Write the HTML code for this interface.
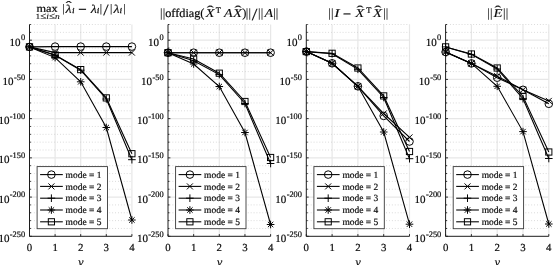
<!DOCTYPE html>
<html><head><meta charset="utf-8"><title>Convergence history</title>
<style>
html,body{margin:0;padding:0;background:#fff}
svg{display:block}
svg text{font-family:"Liberation Serif","DejaVu Serif",serif;fill:#0a0a0a;stroke:#0a0a0a;stroke-width:0.2px;text-rendering:geometricPrecision}
</style></head><body>
<svg width="553" height="265" viewBox="0 0 553 265">
<rect width="553" height="265" fill="#fff"/>
<g><line x1="55.1" y1="24.5" x2="55.1" y2="236.3" stroke="#e7e7e7" stroke-width="1.2"/>
<line x1="80.7" y1="24.5" x2="80.7" y2="236.3" stroke="#e7e7e7" stroke-width="1.2"/>
<line x1="106.3" y1="24.5" x2="106.3" y2="236.3" stroke="#e7e7e7" stroke-width="1.2"/>
<line x1="131.9" y1="24.5" x2="131.9" y2="236.3" stroke="#e7e7e7" stroke-width="1.2"/>
<line x1="31" y1="24.51" x2="131.9" y2="24.51" stroke="#c9c9c9" stroke-width="0.72" stroke-dasharray="0.9 2"/>
<line x1="31" y1="32.36" x2="131.9" y2="32.36" stroke="#c9c9c9" stroke-width="0.72" stroke-dasharray="0.9 2"/>
<line x1="29.5" y1="40.2" x2="131.9" y2="40.2" stroke="#e7e7e7" stroke-width="1.2"/>
<line x1="31" y1="48.04" x2="131.9" y2="48.04" stroke="#c9c9c9" stroke-width="0.72" stroke-dasharray="0.9 2"/>
<line x1="31" y1="55.89" x2="131.9" y2="55.89" stroke="#c9c9c9" stroke-width="0.72" stroke-dasharray="0.9 2"/>
<line x1="31" y1="63.73" x2="131.9" y2="63.73" stroke="#c9c9c9" stroke-width="0.72" stroke-dasharray="0.9 2"/>
<line x1="31" y1="71.58" x2="131.9" y2="71.58" stroke="#c9c9c9" stroke-width="0.72" stroke-dasharray="0.9 2"/>
<line x1="29.5" y1="79.42" x2="131.9" y2="79.42" stroke="#e7e7e7" stroke-width="1.2"/>
<line x1="31" y1="87.26" x2="131.9" y2="87.26" stroke="#c9c9c9" stroke-width="0.72" stroke-dasharray="0.9 2"/>
<line x1="31" y1="95.11" x2="131.9" y2="95.11" stroke="#c9c9c9" stroke-width="0.72" stroke-dasharray="0.9 2"/>
<line x1="31" y1="102.95" x2="131.9" y2="102.95" stroke="#c9c9c9" stroke-width="0.72" stroke-dasharray="0.9 2"/>
<line x1="31" y1="110.8" x2="131.9" y2="110.8" stroke="#c9c9c9" stroke-width="0.72" stroke-dasharray="0.9 2"/>
<line x1="29.5" y1="118.64" x2="131.9" y2="118.64" stroke="#e7e7e7" stroke-width="1.2"/>
<line x1="31" y1="126.48" x2="131.9" y2="126.48" stroke="#c9c9c9" stroke-width="0.72" stroke-dasharray="0.9 2"/>
<line x1="31" y1="134.33" x2="131.9" y2="134.33" stroke="#c9c9c9" stroke-width="0.72" stroke-dasharray="0.9 2"/>
<line x1="31" y1="142.17" x2="131.9" y2="142.17" stroke="#c9c9c9" stroke-width="0.72" stroke-dasharray="0.9 2"/>
<line x1="31" y1="150.02" x2="131.9" y2="150.02" stroke="#c9c9c9" stroke-width="0.72" stroke-dasharray="0.9 2"/>
<line x1="29.5" y1="157.86" x2="131.9" y2="157.86" stroke="#e7e7e7" stroke-width="1.2"/>
<line x1="31" y1="165.7" x2="131.9" y2="165.7" stroke="#c9c9c9" stroke-width="0.72" stroke-dasharray="0.9 2"/>
<line x1="31" y1="173.55" x2="131.9" y2="173.55" stroke="#c9c9c9" stroke-width="0.72" stroke-dasharray="0.9 2"/>
<line x1="31" y1="181.39" x2="131.9" y2="181.39" stroke="#c9c9c9" stroke-width="0.72" stroke-dasharray="0.9 2"/>
<line x1="31" y1="189.24" x2="131.9" y2="189.24" stroke="#c9c9c9" stroke-width="0.72" stroke-dasharray="0.9 2"/>
<line x1="29.5" y1="197.08" x2="131.9" y2="197.08" stroke="#e7e7e7" stroke-width="1.2"/>
<line x1="31" y1="204.92" x2="131.9" y2="204.92" stroke="#c9c9c9" stroke-width="0.72" stroke-dasharray="0.9 2"/>
<line x1="31" y1="212.77" x2="131.9" y2="212.77" stroke="#c9c9c9" stroke-width="0.72" stroke-dasharray="0.9 2"/>
<line x1="31" y1="220.61" x2="131.9" y2="220.61" stroke="#c9c9c9" stroke-width="0.72" stroke-dasharray="0.9 2"/>
<line x1="31" y1="228.46" x2="131.9" y2="228.46" stroke="#c9c9c9" stroke-width="0.72" stroke-dasharray="0.9 2"/>
<path d="M29.5 24.51h1.4M29.5 32.36h1.4M29.5 40.2h2.4M29.5 48.04h1.4M29.5 55.89h1.4M29.5 63.73h1.4M29.5 71.58h1.4M29.5 79.42h2.4M29.5 87.26h1.4M29.5 95.11h1.4M29.5 102.95h1.4M29.5 110.8h1.4M29.5 118.64h2.4M29.5 126.48h1.4M29.5 134.33h1.4M29.5 142.17h1.4M29.5 150.02h1.4M29.5 157.86h2.4M29.5 165.7h1.4M29.5 173.55h1.4M29.5 181.39h1.4M29.5 189.24h1.4M29.5 197.08h2.4M29.5 204.92h1.4M29.5 212.77h1.4M29.5 220.61h1.4M29.5 228.46h1.4M29.5 236.3h2.4M29.5 236.3v-2.2M55.1 236.3v-2.2M80.7 236.3v-2.2M106.3 236.3v-2.2M131.9 236.3v-2.2" stroke="#1c1c1c" stroke-width="0.9" fill="none"/>
<path d="M29.5 24.5V236.3H131.9" stroke="#1c1c1c" stroke-width="1" fill="none"/>
<text x="25.2" y="40.4" font-size="8.4" text-anchor="end">0</text>
<text x="20.6" y="45.8" font-size="11" text-anchor="end">10</text>
<text x="25.2" y="79.62" font-size="8.4" text-anchor="end">-50</text>
<text x="13.6" y="85.02" font-size="11" text-anchor="end">10</text>
<text x="25.2" y="118.84" font-size="8.4" text-anchor="end">-100</text>
<text x="9.4" y="124.24" font-size="11" text-anchor="end">10</text>
<text x="25.2" y="158.06" font-size="8.4" text-anchor="end">-150</text>
<text x="9.4" y="163.46" font-size="11" text-anchor="end">10</text>
<text x="25.2" y="197.28" font-size="8.4" text-anchor="end">-200</text>
<text x="9.4" y="202.68" font-size="11" text-anchor="end">10</text>
<text x="25.2" y="236.5" font-size="8.4" text-anchor="end">-250</text>
<text x="9.4" y="241.9" font-size="11" text-anchor="end">10</text>
<text x="29.5" y="250.8" font-size="10.8" text-anchor="middle">0</text>
<text x="55.1" y="250.8" font-size="10.8" text-anchor="middle">1</text>
<text x="80.7" y="250.8" font-size="10.8" text-anchor="middle">2</text>
<text x="106.3" y="250.8" font-size="10.8" text-anchor="middle">3</text>
<text x="131.9" y="250.8" font-size="10.8" text-anchor="middle">4</text>
<text x="80.9" y="266.2" font-size="11.8" font-style="italic" text-anchor="middle">ν</text>
<polyline points="29.5,46.9 55.1,46.6 80.7,46.6 106.3,46.6 131.9,46.6" fill="none" stroke="#000" stroke-width="1.08"/>
<g stroke="#000" stroke-width="0.98" fill="none"><circle cx="29.5" cy="46.9" r="3.8" fill="none"/><circle cx="55.1" cy="46.6" r="3.8" fill="none"/><circle cx="80.7" cy="46.6" r="3.8" fill="none"/><circle cx="106.3" cy="46.6" r="3.8" fill="none"/><circle cx="131.9" cy="46.6" r="3.8" fill="none"/></g>
<polyline points="29.5,46.9 55.1,52.6 80.7,52.6 106.3,52.6 131.9,52.6" fill="none" stroke="#000" stroke-width="1.08"/>
<g stroke="#000" stroke-width="0.98" fill="none"><path d="M26.5 43.9L32.5 49.9M26.5 49.9L32.5 43.9"/><path d="M52.1 49.6L58.1 55.6M52.1 55.6L58.1 49.6"/><path d="M77.7 49.6L83.7 55.6M77.7 55.6L83.7 49.6"/><path d="M103.3 49.6L109.3 55.6M103.3 55.6L109.3 49.6"/><path d="M128.9 49.6L134.9 55.6M128.9 55.6L134.9 49.6"/></g>
<polyline points="29.5,46.9 55.1,55.3 80.7,70.2 106.3,99 131.9,159.7" fill="none" stroke="#000" stroke-width="1.08"/>
<g stroke="#000" stroke-width="0.98" fill="none"><path d="M25.7 46.9H33.3M29.5 43.1V50.7"/><path d="M51.3 55.3H58.9M55.1 51.5V59.1"/><path d="M76.9 70.2H84.5M80.7 66.4V74"/><path d="M102.5 99H110.1M106.3 95.2V102.8"/><path d="M128.1 159.7H135.7M131.9 155.9V163.5"/></g>
<polyline points="29.5,46.9 55.1,57.6 80.7,81.8 106.3,127.5 131.9,220" fill="none" stroke="#000" stroke-width="1.08"/>
<g stroke="#000" stroke-width="0.98" fill="none"><path d="M25.7 46.9H33.3M29.5 43.1V50.7M26.8 44.2L32.2 49.6M26.8 49.6L32.2 44.2"/><path d="M51.3 57.6H58.9M55.1 53.8V61.4M52.4 54.9L57.8 60.3M52.4 60.3L57.8 54.9"/><path d="M76.9 81.8H84.5M80.7 78V85.6M78 79.1L83.4 84.5M78 84.5L83.4 79.1"/><path d="M102.5 127.5H110.1M106.3 123.7V131.3M103.6 124.8L109 130.2M103.6 130.2L109 124.8"/><path d="M128.1 220H135.7M131.9 216.2V223.8M129.2 217.3L134.6 222.7M129.2 222.7L134.6 217.3"/></g>
<polyline points="29.5,46.9 55.1,55 80.7,69.6 106.3,97.9 131.9,153.7" fill="none" stroke="#000" stroke-width="1.08"/>
<g stroke="#000" stroke-width="0.98" fill="none"><rect x="26.4" y="43.8" width="6.2" height="6.2" fill="none"/><rect x="52" y="51.9" width="6.2" height="6.2" fill="none"/><rect x="77.6" y="66.5" width="6.2" height="6.2" fill="none"/><rect x="103.2" y="94.8" width="6.2" height="6.2" fill="none"/><rect x="128.8" y="150.6" width="6.2" height="6.2" fill="none"/></g>
<rect x="37.1" y="166.6" width="70.4" height="62.1" fill="#fff" stroke="#3a3a3a" stroke-width="0.9"/>
<line x1="40.1" y1="174.6" x2="62.8" y2="174.6" stroke="#000" stroke-width="1.08"/>
<g stroke="#000" stroke-width="0.98" fill="none"><circle cx="51.4" cy="174.6" r="3.8" fill="none"/></g>
<text x="65.6" y="177.8" font-size="9.5" textLength="35.8" lengthAdjust="spacingAndGlyphs">mode = 1</text>
<line x1="40.1" y1="186.4" x2="62.8" y2="186.4" stroke="#000" stroke-width="1.08"/>
<g stroke="#000" stroke-width="0.98" fill="none"><path d="M48.4 183.4L54.4 189.4M48.4 189.4L54.4 183.4"/></g>
<text x="65.6" y="189.6" font-size="9.5" textLength="35.8" lengthAdjust="spacingAndGlyphs">mode = 2</text>
<line x1="40.1" y1="198.2" x2="62.8" y2="198.2" stroke="#000" stroke-width="1.08"/>
<g stroke="#000" stroke-width="0.98" fill="none"><path d="M47.6 198.2H55.2M51.4 194.4V202"/></g>
<text x="65.6" y="201.4" font-size="9.5" textLength="35.8" lengthAdjust="spacingAndGlyphs">mode = 3</text>
<line x1="40.1" y1="210" x2="62.8" y2="210" stroke="#000" stroke-width="1.08"/>
<g stroke="#000" stroke-width="0.98" fill="none"><path d="M47.6 210H55.2M51.4 206.2V213.8M48.7 207.3L54.1 212.7M48.7 212.7L54.1 207.3"/></g>
<text x="65.6" y="213.2" font-size="9.5" textLength="35.8" lengthAdjust="spacingAndGlyphs">mode = 4</text>
<line x1="40.1" y1="221.8" x2="62.8" y2="221.8" stroke="#000" stroke-width="1.08"/>
<g stroke="#000" stroke-width="0.98" fill="none"><rect x="48.3" y="218.7" width="6.2" height="6.2" fill="none"/></g>
<text x="65.6" y="225" font-size="9.5" textLength="35.8" lengthAdjust="spacingAndGlyphs">mode = 5</text></g>
<g><line x1="193.65" y1="24.5" x2="193.65" y2="236.3" stroke="#e7e7e7" stroke-width="1.2"/>
<line x1="219.3" y1="24.5" x2="219.3" y2="236.3" stroke="#e7e7e7" stroke-width="1.2"/>
<line x1="244.95" y1="24.5" x2="244.95" y2="236.3" stroke="#e7e7e7" stroke-width="1.2"/>
<line x1="270.6" y1="24.5" x2="270.6" y2="236.3" stroke="#e7e7e7" stroke-width="1.2"/>
<line x1="169.5" y1="24.51" x2="270.6" y2="24.51" stroke="#c9c9c9" stroke-width="0.72" stroke-dasharray="0.9 2"/>
<line x1="169.5" y1="32.36" x2="270.6" y2="32.36" stroke="#c9c9c9" stroke-width="0.72" stroke-dasharray="0.9 2"/>
<line x1="168" y1="40.2" x2="270.6" y2="40.2" stroke="#e7e7e7" stroke-width="1.2"/>
<line x1="169.5" y1="48.04" x2="270.6" y2="48.04" stroke="#c9c9c9" stroke-width="0.72" stroke-dasharray="0.9 2"/>
<line x1="169.5" y1="55.89" x2="270.6" y2="55.89" stroke="#c9c9c9" stroke-width="0.72" stroke-dasharray="0.9 2"/>
<line x1="169.5" y1="63.73" x2="270.6" y2="63.73" stroke="#c9c9c9" stroke-width="0.72" stroke-dasharray="0.9 2"/>
<line x1="169.5" y1="71.58" x2="270.6" y2="71.58" stroke="#c9c9c9" stroke-width="0.72" stroke-dasharray="0.9 2"/>
<line x1="168" y1="79.42" x2="270.6" y2="79.42" stroke="#e7e7e7" stroke-width="1.2"/>
<line x1="169.5" y1="87.26" x2="270.6" y2="87.26" stroke="#c9c9c9" stroke-width="0.72" stroke-dasharray="0.9 2"/>
<line x1="169.5" y1="95.11" x2="270.6" y2="95.11" stroke="#c9c9c9" stroke-width="0.72" stroke-dasharray="0.9 2"/>
<line x1="169.5" y1="102.95" x2="270.6" y2="102.95" stroke="#c9c9c9" stroke-width="0.72" stroke-dasharray="0.9 2"/>
<line x1="169.5" y1="110.8" x2="270.6" y2="110.8" stroke="#c9c9c9" stroke-width="0.72" stroke-dasharray="0.9 2"/>
<line x1="168" y1="118.64" x2="270.6" y2="118.64" stroke="#e7e7e7" stroke-width="1.2"/>
<line x1="169.5" y1="126.48" x2="270.6" y2="126.48" stroke="#c9c9c9" stroke-width="0.72" stroke-dasharray="0.9 2"/>
<line x1="169.5" y1="134.33" x2="270.6" y2="134.33" stroke="#c9c9c9" stroke-width="0.72" stroke-dasharray="0.9 2"/>
<line x1="169.5" y1="142.17" x2="270.6" y2="142.17" stroke="#c9c9c9" stroke-width="0.72" stroke-dasharray="0.9 2"/>
<line x1="169.5" y1="150.02" x2="270.6" y2="150.02" stroke="#c9c9c9" stroke-width="0.72" stroke-dasharray="0.9 2"/>
<line x1="168" y1="157.86" x2="270.6" y2="157.86" stroke="#e7e7e7" stroke-width="1.2"/>
<line x1="169.5" y1="165.7" x2="270.6" y2="165.7" stroke="#c9c9c9" stroke-width="0.72" stroke-dasharray="0.9 2"/>
<line x1="169.5" y1="173.55" x2="270.6" y2="173.55" stroke="#c9c9c9" stroke-width="0.72" stroke-dasharray="0.9 2"/>
<line x1="169.5" y1="181.39" x2="270.6" y2="181.39" stroke="#c9c9c9" stroke-width="0.72" stroke-dasharray="0.9 2"/>
<line x1="169.5" y1="189.24" x2="270.6" y2="189.24" stroke="#c9c9c9" stroke-width="0.72" stroke-dasharray="0.9 2"/>
<line x1="168" y1="197.08" x2="270.6" y2="197.08" stroke="#e7e7e7" stroke-width="1.2"/>
<line x1="169.5" y1="204.92" x2="270.6" y2="204.92" stroke="#c9c9c9" stroke-width="0.72" stroke-dasharray="0.9 2"/>
<line x1="169.5" y1="212.77" x2="270.6" y2="212.77" stroke="#c9c9c9" stroke-width="0.72" stroke-dasharray="0.9 2"/>
<line x1="169.5" y1="220.61" x2="270.6" y2="220.61" stroke="#c9c9c9" stroke-width="0.72" stroke-dasharray="0.9 2"/>
<line x1="169.5" y1="228.46" x2="270.6" y2="228.46" stroke="#c9c9c9" stroke-width="0.72" stroke-dasharray="0.9 2"/>
<path d="M168 24.51h1.4M168 32.36h1.4M168 40.2h2.4M168 48.04h1.4M168 55.89h1.4M168 63.73h1.4M168 71.58h1.4M168 79.42h2.4M168 87.26h1.4M168 95.11h1.4M168 102.95h1.4M168 110.8h1.4M168 118.64h2.4M168 126.48h1.4M168 134.33h1.4M168 142.17h1.4M168 150.02h1.4M168 157.86h2.4M168 165.7h1.4M168 173.55h1.4M168 181.39h1.4M168 189.24h1.4M168 197.08h2.4M168 204.92h1.4M168 212.77h1.4M168 220.61h1.4M168 228.46h1.4M168 236.3h2.4M168 236.3v-2.2M193.65 236.3v-2.2M219.3 236.3v-2.2M244.95 236.3v-2.2M270.6 236.3v-2.2" stroke="#1c1c1c" stroke-width="0.9" fill="none"/>
<path d="M168 24.5V236.3H270.6" stroke="#1c1c1c" stroke-width="1" fill="none"/>
<text x="163.7" y="40.4" font-size="8.4" text-anchor="end">0</text>
<text x="159.1" y="45.8" font-size="11" text-anchor="end">10</text>
<text x="163.7" y="79.62" font-size="8.4" text-anchor="end">-50</text>
<text x="152.1" y="85.02" font-size="11" text-anchor="end">10</text>
<text x="163.7" y="118.84" font-size="8.4" text-anchor="end">-100</text>
<text x="147.9" y="124.24" font-size="11" text-anchor="end">10</text>
<text x="163.7" y="158.06" font-size="8.4" text-anchor="end">-150</text>
<text x="147.9" y="163.46" font-size="11" text-anchor="end">10</text>
<text x="163.7" y="197.28" font-size="8.4" text-anchor="end">-200</text>
<text x="147.9" y="202.68" font-size="11" text-anchor="end">10</text>
<text x="163.7" y="236.5" font-size="8.4" text-anchor="end">-250</text>
<text x="147.9" y="241.9" font-size="11" text-anchor="end">10</text>
<text x="168" y="250.8" font-size="10.8" text-anchor="middle">0</text>
<text x="193.65" y="250.8" font-size="10.8" text-anchor="middle">1</text>
<text x="219.3" y="250.8" font-size="10.8" text-anchor="middle">2</text>
<text x="244.95" y="250.8" font-size="10.8" text-anchor="middle">3</text>
<text x="270.6" y="250.8" font-size="10.8" text-anchor="middle">4</text>
<text x="219.5" y="266.2" font-size="11.8" font-style="italic" text-anchor="middle">ν</text>
<polyline points="168,52.7 193.65,52.7 219.3,52.7 244.95,52.7 270.6,52.7" fill="none" stroke="#000" stroke-width="1.08"/>
<g stroke="#000" stroke-width="0.98" fill="none"><circle cx="168" cy="52.7" r="3.8" fill="none"/><circle cx="193.65" cy="52.7" r="3.8" fill="none"/><circle cx="219.3" cy="52.7" r="3.8" fill="none"/><circle cx="244.95" cy="52.7" r="3.8" fill="none"/><circle cx="270.6" cy="52.7" r="3.8" fill="none"/></g>
<polyline points="168,52.7 193.65,52.7 219.3,52.7 244.95,52.7 270.6,52.7" fill="none" stroke="#000" stroke-width="1.08"/>
<g stroke="#000" stroke-width="0.98" fill="none"><path d="M165 49.7L171 55.7M165 55.7L171 49.7"/><path d="M190.65 49.7L196.65 55.7M190.65 55.7L196.65 49.7"/><path d="M216.3 49.7L222.3 55.7M216.3 55.7L222.3 49.7"/><path d="M241.95 49.7L247.95 55.7M241.95 55.7L247.95 49.7"/><path d="M267.6 49.7L273.6 55.7M267.6 55.7L273.6 49.7"/></g>
<polyline points="168,52.7 193.65,60.8 219.3,74.6 244.95,103.5 270.6,163.5" fill="none" stroke="#000" stroke-width="1.08"/>
<g stroke="#000" stroke-width="0.98" fill="none"><path d="M164.2 52.7H171.8M168 48.9V56.5"/><path d="M189.85 60.8H197.45M193.65 57V64.6"/><path d="M215.5 74.6H223.1M219.3 70.8V78.4"/><path d="M241.15 103.5H248.75M244.95 99.7V107.3"/><path d="M266.8 163.5H274.4M270.6 159.7V167.3"/></g>
<polyline points="168,52.7 193.65,64 219.3,86.5 244.95,132.5 270.6,224.5" fill="none" stroke="#000" stroke-width="1.08"/>
<g stroke="#000" stroke-width="0.98" fill="none"><path d="M164.2 52.7H171.8M168 48.9V56.5M165.3 50L170.7 55.4M165.3 55.4L170.7 50"/><path d="M189.85 64H197.45M193.65 60.2V67.8M190.95 61.3L196.35 66.7M190.95 66.7L196.35 61.3"/><path d="M215.5 86.5H223.1M219.3 82.7V90.3M216.6 83.8L222 89.2M216.6 89.2L222 83.8"/><path d="M241.15 132.5H248.75M244.95 128.7V136.3M242.25 129.8L247.65 135.2M242.25 135.2L247.65 129.8"/><path d="M266.8 224.5H274.4M270.6 220.7V228.3M267.9 221.8L273.3 227.2M267.9 227.2L273.3 221.8"/></g>
<polyline points="168,52.7 193.65,59 219.3,73.2 244.95,101.5 270.6,157.5" fill="none" stroke="#000" stroke-width="1.08"/>
<g stroke="#000" stroke-width="0.98" fill="none"><rect x="164.9" y="49.6" width="6.2" height="6.2" fill="none"/><rect x="190.55" y="55.9" width="6.2" height="6.2" fill="none"/><rect x="216.2" y="70.1" width="6.2" height="6.2" fill="none"/><rect x="241.85" y="98.4" width="6.2" height="6.2" fill="none"/><rect x="267.5" y="154.4" width="6.2" height="6.2" fill="none"/></g>
<rect x="175.6" y="166.6" width="70.4" height="62.1" fill="#fff" stroke="#3a3a3a" stroke-width="0.9"/>
<line x1="178.6" y1="174.6" x2="201.3" y2="174.6" stroke="#000" stroke-width="1.08"/>
<g stroke="#000" stroke-width="0.98" fill="none"><circle cx="189.9" cy="174.6" r="3.8" fill="none"/></g>
<text x="204.1" y="177.8" font-size="9.5" textLength="35.8" lengthAdjust="spacingAndGlyphs">mode = 1</text>
<line x1="178.6" y1="186.4" x2="201.3" y2="186.4" stroke="#000" stroke-width="1.08"/>
<g stroke="#000" stroke-width="0.98" fill="none"><path d="M186.9 183.4L192.9 189.4M186.9 189.4L192.9 183.4"/></g>
<text x="204.1" y="189.6" font-size="9.5" textLength="35.8" lengthAdjust="spacingAndGlyphs">mode = 2</text>
<line x1="178.6" y1="198.2" x2="201.3" y2="198.2" stroke="#000" stroke-width="1.08"/>
<g stroke="#000" stroke-width="0.98" fill="none"><path d="M186.1 198.2H193.7M189.9 194.4V202"/></g>
<text x="204.1" y="201.4" font-size="9.5" textLength="35.8" lengthAdjust="spacingAndGlyphs">mode = 3</text>
<line x1="178.6" y1="210" x2="201.3" y2="210" stroke="#000" stroke-width="1.08"/>
<g stroke="#000" stroke-width="0.98" fill="none"><path d="M186.1 210H193.7M189.9 206.2V213.8M187.2 207.3L192.6 212.7M187.2 212.7L192.6 207.3"/></g>
<text x="204.1" y="213.2" font-size="9.5" textLength="35.8" lengthAdjust="spacingAndGlyphs">mode = 4</text>
<line x1="178.6" y1="221.8" x2="201.3" y2="221.8" stroke="#000" stroke-width="1.08"/>
<g stroke="#000" stroke-width="0.98" fill="none"><rect x="186.8" y="218.7" width="6.2" height="6.2" fill="none"/></g>
<text x="204.1" y="225" font-size="9.5" textLength="35.8" lengthAdjust="spacingAndGlyphs">mode = 5</text></g>
<g><line x1="332.1" y1="24.5" x2="332.1" y2="236.3" stroke="#e7e7e7" stroke-width="1.2"/>
<line x1="357.9" y1="24.5" x2="357.9" y2="236.3" stroke="#e7e7e7" stroke-width="1.2"/>
<line x1="383.7" y1="24.5" x2="383.7" y2="236.3" stroke="#e7e7e7" stroke-width="1.2"/>
<line x1="409.5" y1="24.5" x2="409.5" y2="236.3" stroke="#e7e7e7" stroke-width="1.2"/>
<line x1="307.8" y1="24.51" x2="409.5" y2="24.51" stroke="#c9c9c9" stroke-width="0.72" stroke-dasharray="0.9 2"/>
<line x1="307.8" y1="32.36" x2="409.5" y2="32.36" stroke="#c9c9c9" stroke-width="0.72" stroke-dasharray="0.9 2"/>
<line x1="306.3" y1="40.2" x2="409.5" y2="40.2" stroke="#e7e7e7" stroke-width="1.2"/>
<line x1="307.8" y1="48.04" x2="409.5" y2="48.04" stroke="#c9c9c9" stroke-width="0.72" stroke-dasharray="0.9 2"/>
<line x1="307.8" y1="55.89" x2="409.5" y2="55.89" stroke="#c9c9c9" stroke-width="0.72" stroke-dasharray="0.9 2"/>
<line x1="307.8" y1="63.73" x2="409.5" y2="63.73" stroke="#c9c9c9" stroke-width="0.72" stroke-dasharray="0.9 2"/>
<line x1="307.8" y1="71.58" x2="409.5" y2="71.58" stroke="#c9c9c9" stroke-width="0.72" stroke-dasharray="0.9 2"/>
<line x1="306.3" y1="79.42" x2="409.5" y2="79.42" stroke="#e7e7e7" stroke-width="1.2"/>
<line x1="307.8" y1="87.26" x2="409.5" y2="87.26" stroke="#c9c9c9" stroke-width="0.72" stroke-dasharray="0.9 2"/>
<line x1="307.8" y1="95.11" x2="409.5" y2="95.11" stroke="#c9c9c9" stroke-width="0.72" stroke-dasharray="0.9 2"/>
<line x1="307.8" y1="102.95" x2="409.5" y2="102.95" stroke="#c9c9c9" stroke-width="0.72" stroke-dasharray="0.9 2"/>
<line x1="307.8" y1="110.8" x2="409.5" y2="110.8" stroke="#c9c9c9" stroke-width="0.72" stroke-dasharray="0.9 2"/>
<line x1="306.3" y1="118.64" x2="409.5" y2="118.64" stroke="#e7e7e7" stroke-width="1.2"/>
<line x1="307.8" y1="126.48" x2="409.5" y2="126.48" stroke="#c9c9c9" stroke-width="0.72" stroke-dasharray="0.9 2"/>
<line x1="307.8" y1="134.33" x2="409.5" y2="134.33" stroke="#c9c9c9" stroke-width="0.72" stroke-dasharray="0.9 2"/>
<line x1="307.8" y1="142.17" x2="409.5" y2="142.17" stroke="#c9c9c9" stroke-width="0.72" stroke-dasharray="0.9 2"/>
<line x1="307.8" y1="150.02" x2="409.5" y2="150.02" stroke="#c9c9c9" stroke-width="0.72" stroke-dasharray="0.9 2"/>
<line x1="306.3" y1="157.86" x2="409.5" y2="157.86" stroke="#e7e7e7" stroke-width="1.2"/>
<line x1="307.8" y1="165.7" x2="409.5" y2="165.7" stroke="#c9c9c9" stroke-width="0.72" stroke-dasharray="0.9 2"/>
<line x1="307.8" y1="173.55" x2="409.5" y2="173.55" stroke="#c9c9c9" stroke-width="0.72" stroke-dasharray="0.9 2"/>
<line x1="307.8" y1="181.39" x2="409.5" y2="181.39" stroke="#c9c9c9" stroke-width="0.72" stroke-dasharray="0.9 2"/>
<line x1="307.8" y1="189.24" x2="409.5" y2="189.24" stroke="#c9c9c9" stroke-width="0.72" stroke-dasharray="0.9 2"/>
<line x1="306.3" y1="197.08" x2="409.5" y2="197.08" stroke="#e7e7e7" stroke-width="1.2"/>
<line x1="307.8" y1="204.92" x2="409.5" y2="204.92" stroke="#c9c9c9" stroke-width="0.72" stroke-dasharray="0.9 2"/>
<line x1="307.8" y1="212.77" x2="409.5" y2="212.77" stroke="#c9c9c9" stroke-width="0.72" stroke-dasharray="0.9 2"/>
<line x1="307.8" y1="220.61" x2="409.5" y2="220.61" stroke="#c9c9c9" stroke-width="0.72" stroke-dasharray="0.9 2"/>
<line x1="307.8" y1="228.46" x2="409.5" y2="228.46" stroke="#c9c9c9" stroke-width="0.72" stroke-dasharray="0.9 2"/>
<path d="M306.3 24.51h1.4M306.3 32.36h1.4M306.3 40.2h2.4M306.3 48.04h1.4M306.3 55.89h1.4M306.3 63.73h1.4M306.3 71.58h1.4M306.3 79.42h2.4M306.3 87.26h1.4M306.3 95.11h1.4M306.3 102.95h1.4M306.3 110.8h1.4M306.3 118.64h2.4M306.3 126.48h1.4M306.3 134.33h1.4M306.3 142.17h1.4M306.3 150.02h1.4M306.3 157.86h2.4M306.3 165.7h1.4M306.3 173.55h1.4M306.3 181.39h1.4M306.3 189.24h1.4M306.3 197.08h2.4M306.3 204.92h1.4M306.3 212.77h1.4M306.3 220.61h1.4M306.3 228.46h1.4M306.3 236.3h2.4M306.3 236.3v-2.2M332.1 236.3v-2.2M357.9 236.3v-2.2M383.7 236.3v-2.2M409.5 236.3v-2.2" stroke="#1c1c1c" stroke-width="0.9" fill="none"/>
<path d="M306.3 24.5V236.3H409.5" stroke="#1c1c1c" stroke-width="1" fill="none"/>
<text x="302" y="40.4" font-size="8.4" text-anchor="end">0</text>
<text x="297.4" y="45.8" font-size="11" text-anchor="end">10</text>
<text x="302" y="79.62" font-size="8.4" text-anchor="end">-50</text>
<text x="290.4" y="85.02" font-size="11" text-anchor="end">10</text>
<text x="302" y="118.84" font-size="8.4" text-anchor="end">-100</text>
<text x="286.2" y="124.24" font-size="11" text-anchor="end">10</text>
<text x="302" y="158.06" font-size="8.4" text-anchor="end">-150</text>
<text x="286.2" y="163.46" font-size="11" text-anchor="end">10</text>
<text x="302" y="197.28" font-size="8.4" text-anchor="end">-200</text>
<text x="286.2" y="202.68" font-size="11" text-anchor="end">10</text>
<text x="302" y="236.5" font-size="8.4" text-anchor="end">-250</text>
<text x="286.2" y="241.9" font-size="11" text-anchor="end">10</text>
<text x="306.3" y="250.8" font-size="10.8" text-anchor="middle">0</text>
<text x="332.1" y="250.8" font-size="10.8" text-anchor="middle">1</text>
<text x="357.9" y="250.8" font-size="10.8" text-anchor="middle">2</text>
<text x="383.7" y="250.8" font-size="10.8" text-anchor="middle">3</text>
<text x="409.5" y="250.8" font-size="10.8" text-anchor="middle">4</text>
<text x="358.1" y="266.2" font-size="11.8" font-style="italic" text-anchor="middle">ν</text>
<polyline points="306.3,51.6 332.1,63.3 357.9,86.3 383.7,115.9 409.5,141.5" fill="none" stroke="#000" stroke-width="1.08"/>
<g stroke="#000" stroke-width="0.98" fill="none"><circle cx="306.3" cy="51.6" r="3.8" fill="none"/><circle cx="332.1" cy="63.3" r="3.8" fill="none"/><circle cx="357.9" cy="86.3" r="3.8" fill="none"/><circle cx="383.7" cy="115.9" r="3.8" fill="none"/><circle cx="409.5" cy="141.5" r="3.8" fill="none"/></g>
<polyline points="306.3,51.6 332.1,63.3 357.9,86.3 383.7,113.5 409.5,137.4" fill="none" stroke="#000" stroke-width="1.08"/>
<g stroke="#000" stroke-width="0.98" fill="none"><path d="M303.3 48.6L309.3 54.6M303.3 54.6L309.3 48.6"/><path d="M329.1 60.3L335.1 66.3M329.1 66.3L335.1 60.3"/><path d="M354.9 83.3L360.9 89.3M354.9 89.3L360.9 83.3"/><path d="M380.7 110.5L386.7 116.5M380.7 116.5L386.7 110.5"/><path d="M406.5 134.4L412.5 140.4M406.5 140.4L412.5 134.4"/></g>
<polyline points="306.3,51.6 332.1,53.8 357.9,69.3 383.7,97.5 409.5,158.7" fill="none" stroke="#000" stroke-width="1.08"/>
<g stroke="#000" stroke-width="0.98" fill="none"><path d="M302.5 51.6H310.1M306.3 47.8V55.4"/><path d="M328.3 53.8H335.9M332.1 50V57.6"/><path d="M354.1 69.3H361.7M357.9 65.5V73.1"/><path d="M379.9 97.5H387.5M383.7 93.7V101.3"/><path d="M405.7 158.7H413.3M409.5 154.9V162.5"/></g>
<polyline points="306.3,51.6 332.1,63.3 357.9,86.3 383.7,132 409.5,224.2" fill="none" stroke="#000" stroke-width="1.08"/>
<g stroke="#000" stroke-width="0.98" fill="none"><path d="M302.5 51.6H310.1M306.3 47.8V55.4M303.6 48.9L309 54.3M303.6 54.3L309 48.9"/><path d="M328.3 63.3H335.9M332.1 59.5V67.1M329.4 60.6L334.8 66M329.4 66L334.8 60.6"/><path d="M354.1 86.3H361.7M357.9 82.5V90.1M355.2 83.6L360.6 89M355.2 89L360.6 83.6"/><path d="M379.9 132H387.5M383.7 128.2V135.8M381 129.3L386.4 134.7M381 134.7L386.4 129.3"/><path d="M405.7 224.2H413.3M409.5 220.4V228M406.8 221.5L412.2 226.9M406.8 226.9L412.2 221.5"/></g>
<polyline points="306.3,51.6 332.1,53.3 357.9,68 383.7,95.9 409.5,151.5" fill="none" stroke="#000" stroke-width="1.08"/>
<g stroke="#000" stroke-width="0.98" fill="none"><rect x="303.2" y="48.5" width="6.2" height="6.2" fill="none"/><rect x="329" y="50.2" width="6.2" height="6.2" fill="none"/><rect x="354.8" y="64.9" width="6.2" height="6.2" fill="none"/><rect x="380.6" y="92.8" width="6.2" height="6.2" fill="none"/><rect x="406.4" y="148.4" width="6.2" height="6.2" fill="none"/></g>
<rect x="313.9" y="166.6" width="70.4" height="62.1" fill="#fff" stroke="#3a3a3a" stroke-width="0.9"/>
<line x1="316.9" y1="174.6" x2="339.6" y2="174.6" stroke="#000" stroke-width="1.08"/>
<g stroke="#000" stroke-width="0.98" fill="none"><circle cx="328.2" cy="174.6" r="3.8" fill="none"/></g>
<text x="342.4" y="177.8" font-size="9.5" textLength="35.8" lengthAdjust="spacingAndGlyphs">mode = 1</text>
<line x1="316.9" y1="186.4" x2="339.6" y2="186.4" stroke="#000" stroke-width="1.08"/>
<g stroke="#000" stroke-width="0.98" fill="none"><path d="M325.2 183.4L331.2 189.4M325.2 189.4L331.2 183.4"/></g>
<text x="342.4" y="189.6" font-size="9.5" textLength="35.8" lengthAdjust="spacingAndGlyphs">mode = 2</text>
<line x1="316.9" y1="198.2" x2="339.6" y2="198.2" stroke="#000" stroke-width="1.08"/>
<g stroke="#000" stroke-width="0.98" fill="none"><path d="M324.4 198.2H332M328.2 194.4V202"/></g>
<text x="342.4" y="201.4" font-size="9.5" textLength="35.8" lengthAdjust="spacingAndGlyphs">mode = 3</text>
<line x1="316.9" y1="210" x2="339.6" y2="210" stroke="#000" stroke-width="1.08"/>
<g stroke="#000" stroke-width="0.98" fill="none"><path d="M324.4 210H332M328.2 206.2V213.8M325.5 207.3L330.9 212.7M325.5 212.7L330.9 207.3"/></g>
<text x="342.4" y="213.2" font-size="9.5" textLength="35.8" lengthAdjust="spacingAndGlyphs">mode = 4</text>
<line x1="316.9" y1="221.8" x2="339.6" y2="221.8" stroke="#000" stroke-width="1.08"/>
<g stroke="#000" stroke-width="0.98" fill="none"><rect x="325.1" y="218.7" width="6.2" height="6.2" fill="none"/></g>
<text x="342.4" y="225" font-size="9.5" textLength="35.8" lengthAdjust="spacingAndGlyphs">mode = 5</text></g>
<g><line x1="471.4" y1="24.5" x2="471.4" y2="236.3" stroke="#e7e7e7" stroke-width="1.2"/>
<line x1="497.2" y1="24.5" x2="497.2" y2="236.3" stroke="#e7e7e7" stroke-width="1.2"/>
<line x1="523" y1="24.5" x2="523" y2="236.3" stroke="#e7e7e7" stroke-width="1.2"/>
<line x1="548.8" y1="24.5" x2="548.8" y2="236.3" stroke="#e7e7e7" stroke-width="1.2"/>
<line x1="447.1" y1="24.51" x2="548.8" y2="24.51" stroke="#c9c9c9" stroke-width="0.72" stroke-dasharray="0.9 2"/>
<line x1="447.1" y1="32.36" x2="548.8" y2="32.36" stroke="#c9c9c9" stroke-width="0.72" stroke-dasharray="0.9 2"/>
<line x1="445.6" y1="40.2" x2="548.8" y2="40.2" stroke="#e7e7e7" stroke-width="1.2"/>
<line x1="447.1" y1="48.04" x2="548.8" y2="48.04" stroke="#c9c9c9" stroke-width="0.72" stroke-dasharray="0.9 2"/>
<line x1="447.1" y1="55.89" x2="548.8" y2="55.89" stroke="#c9c9c9" stroke-width="0.72" stroke-dasharray="0.9 2"/>
<line x1="447.1" y1="63.73" x2="548.8" y2="63.73" stroke="#c9c9c9" stroke-width="0.72" stroke-dasharray="0.9 2"/>
<line x1="447.1" y1="71.58" x2="548.8" y2="71.58" stroke="#c9c9c9" stroke-width="0.72" stroke-dasharray="0.9 2"/>
<line x1="445.6" y1="79.42" x2="548.8" y2="79.42" stroke="#e7e7e7" stroke-width="1.2"/>
<line x1="447.1" y1="87.26" x2="548.8" y2="87.26" stroke="#c9c9c9" stroke-width="0.72" stroke-dasharray="0.9 2"/>
<line x1="447.1" y1="95.11" x2="548.8" y2="95.11" stroke="#c9c9c9" stroke-width="0.72" stroke-dasharray="0.9 2"/>
<line x1="447.1" y1="102.95" x2="548.8" y2="102.95" stroke="#c9c9c9" stroke-width="0.72" stroke-dasharray="0.9 2"/>
<line x1="447.1" y1="110.8" x2="548.8" y2="110.8" stroke="#c9c9c9" stroke-width="0.72" stroke-dasharray="0.9 2"/>
<line x1="445.6" y1="118.64" x2="548.8" y2="118.64" stroke="#e7e7e7" stroke-width="1.2"/>
<line x1="447.1" y1="126.48" x2="548.8" y2="126.48" stroke="#c9c9c9" stroke-width="0.72" stroke-dasharray="0.9 2"/>
<line x1="447.1" y1="134.33" x2="548.8" y2="134.33" stroke="#c9c9c9" stroke-width="0.72" stroke-dasharray="0.9 2"/>
<line x1="447.1" y1="142.17" x2="548.8" y2="142.17" stroke="#c9c9c9" stroke-width="0.72" stroke-dasharray="0.9 2"/>
<line x1="447.1" y1="150.02" x2="548.8" y2="150.02" stroke="#c9c9c9" stroke-width="0.72" stroke-dasharray="0.9 2"/>
<line x1="445.6" y1="157.86" x2="548.8" y2="157.86" stroke="#e7e7e7" stroke-width="1.2"/>
<line x1="447.1" y1="165.7" x2="548.8" y2="165.7" stroke="#c9c9c9" stroke-width="0.72" stroke-dasharray="0.9 2"/>
<line x1="447.1" y1="173.55" x2="548.8" y2="173.55" stroke="#c9c9c9" stroke-width="0.72" stroke-dasharray="0.9 2"/>
<line x1="447.1" y1="181.39" x2="548.8" y2="181.39" stroke="#c9c9c9" stroke-width="0.72" stroke-dasharray="0.9 2"/>
<line x1="447.1" y1="189.24" x2="548.8" y2="189.24" stroke="#c9c9c9" stroke-width="0.72" stroke-dasharray="0.9 2"/>
<line x1="445.6" y1="197.08" x2="548.8" y2="197.08" stroke="#e7e7e7" stroke-width="1.2"/>
<line x1="447.1" y1="204.92" x2="548.8" y2="204.92" stroke="#c9c9c9" stroke-width="0.72" stroke-dasharray="0.9 2"/>
<line x1="447.1" y1="212.77" x2="548.8" y2="212.77" stroke="#c9c9c9" stroke-width="0.72" stroke-dasharray="0.9 2"/>
<line x1="447.1" y1="220.61" x2="548.8" y2="220.61" stroke="#c9c9c9" stroke-width="0.72" stroke-dasharray="0.9 2"/>
<line x1="447.1" y1="228.46" x2="548.8" y2="228.46" stroke="#c9c9c9" stroke-width="0.72" stroke-dasharray="0.9 2"/>
<path d="M445.6 24.51h1.4M445.6 32.36h1.4M445.6 40.2h2.4M445.6 48.04h1.4M445.6 55.89h1.4M445.6 63.73h1.4M445.6 71.58h1.4M445.6 79.42h2.4M445.6 87.26h1.4M445.6 95.11h1.4M445.6 102.95h1.4M445.6 110.8h1.4M445.6 118.64h2.4M445.6 126.48h1.4M445.6 134.33h1.4M445.6 142.17h1.4M445.6 150.02h1.4M445.6 157.86h2.4M445.6 165.7h1.4M445.6 173.55h1.4M445.6 181.39h1.4M445.6 189.24h1.4M445.6 197.08h2.4M445.6 204.92h1.4M445.6 212.77h1.4M445.6 220.61h1.4M445.6 228.46h1.4M445.6 236.3h2.4M445.6 236.3v-2.2M471.4 236.3v-2.2M497.2 236.3v-2.2M523 236.3v-2.2M548.8 236.3v-2.2" stroke="#1c1c1c" stroke-width="0.9" fill="none"/>
<path d="M445.6 24.5V236.3H548.8" stroke="#1c1c1c" stroke-width="1" fill="none"/>
<text x="441.3" y="40.4" font-size="8.4" text-anchor="end">0</text>
<text x="436.7" y="45.8" font-size="11" text-anchor="end">10</text>
<text x="441.3" y="79.62" font-size="8.4" text-anchor="end">-50</text>
<text x="429.7" y="85.02" font-size="11" text-anchor="end">10</text>
<text x="441.3" y="118.84" font-size="8.4" text-anchor="end">-100</text>
<text x="425.5" y="124.24" font-size="11" text-anchor="end">10</text>
<text x="441.3" y="158.06" font-size="8.4" text-anchor="end">-150</text>
<text x="425.5" y="163.46" font-size="11" text-anchor="end">10</text>
<text x="441.3" y="197.28" font-size="8.4" text-anchor="end">-200</text>
<text x="425.5" y="202.68" font-size="11" text-anchor="end">10</text>
<text x="441.3" y="236.5" font-size="8.4" text-anchor="end">-250</text>
<text x="425.5" y="241.9" font-size="11" text-anchor="end">10</text>
<text x="445.6" y="250.8" font-size="10.8" text-anchor="middle">0</text>
<text x="471.4" y="250.8" font-size="10.8" text-anchor="middle">1</text>
<text x="497.2" y="250.8" font-size="10.8" text-anchor="middle">2</text>
<text x="523" y="250.8" font-size="10.8" text-anchor="middle">3</text>
<text x="548.8" y="250.8" font-size="10.8" text-anchor="middle">4</text>
<text x="497.4" y="266.2" font-size="11.8" font-style="italic" text-anchor="middle">ν</text>
<polyline points="445.6,52 471.4,63.4 497.2,77.7 523,89.8 548.8,103.8" fill="none" stroke="#000" stroke-width="1.08"/>
<g stroke="#000" stroke-width="0.98" fill="none"><circle cx="445.6" cy="52" r="3.8" fill="none"/><circle cx="471.4" cy="63.4" r="3.8" fill="none"/><circle cx="497.2" cy="77.7" r="3.8" fill="none"/><circle cx="523" cy="89.8" r="3.8" fill="none"/><circle cx="548.8" cy="103.8" r="3.8" fill="none"/></g>
<polyline points="445.6,52 471.4,63.4 497.2,76.2 523,89.8 548.8,100.9" fill="none" stroke="#000" stroke-width="1.08"/>
<g stroke="#000" stroke-width="0.98" fill="none"><path d="M442.6 49L448.6 55M442.6 55L448.6 49"/><path d="M468.4 60.4L474.4 66.4M468.4 66.4L474.4 60.4"/><path d="M494.2 73.2L500.2 79.2M494.2 79.2L500.2 73.2"/><path d="M520 86.8L526 92.8M520 92.8L526 86.8"/><path d="M545.8 97.9L551.8 103.9M545.8 103.9L551.8 97.9"/></g>
<polyline points="445.6,46.9 471.4,54.4 497.2,69 523,98.7 548.8,158.5" fill="none" stroke="#000" stroke-width="1.08"/>
<g stroke="#000" stroke-width="0.98" fill="none"><path d="M441.8 46.9H449.4M445.6 43.1V50.7"/><path d="M467.6 54.4H475.2M471.4 50.6V58.2"/><path d="M493.4 69H501M497.2 65.2V72.8"/><path d="M519.2 98.7H526.8M523 94.9V102.5"/><path d="M545 158.5H552.6M548.8 154.7V162.3"/></g>
<polyline points="445.6,52 471.4,63.4 497.2,86.3 523,131.6 548.8,224" fill="none" stroke="#000" stroke-width="1.08"/>
<g stroke="#000" stroke-width="0.98" fill="none"><path d="M441.8 52H449.4M445.6 48.2V55.8M442.9 49.3L448.3 54.7M442.9 54.7L448.3 49.3"/><path d="M467.6 63.4H475.2M471.4 59.6V67.2M468.7 60.7L474.1 66.1M468.7 66.1L474.1 60.7"/><path d="M493.4 86.3H501M497.2 82.5V90.1M494.5 83.6L499.9 89M494.5 89L499.9 83.6"/><path d="M519.2 131.6H526.8M523 127.8V135.4M520.3 128.9L525.7 134.3M520.3 134.3L525.7 128.9"/><path d="M545 224H552.6M548.8 220.2V227.8M546.1 221.3L551.5 226.7M546.1 226.7L551.5 221.3"/></g>
<polyline points="445.6,46.9 471.4,54 497.2,68 523,96.5 548.8,152" fill="none" stroke="#000" stroke-width="1.08"/>
<g stroke="#000" stroke-width="0.98" fill="none"><rect x="442.5" y="43.8" width="6.2" height="6.2" fill="none"/><rect x="468.3" y="50.9" width="6.2" height="6.2" fill="none"/><rect x="494.1" y="64.9" width="6.2" height="6.2" fill="none"/><rect x="519.9" y="93.4" width="6.2" height="6.2" fill="none"/><rect x="545.7" y="148.9" width="6.2" height="6.2" fill="none"/></g>
<rect x="453.2" y="166.6" width="70.4" height="62.1" fill="#fff" stroke="#3a3a3a" stroke-width="0.9"/>
<line x1="456.2" y1="174.6" x2="478.9" y2="174.6" stroke="#000" stroke-width="1.08"/>
<g stroke="#000" stroke-width="0.98" fill="none"><circle cx="467.5" cy="174.6" r="3.8" fill="none"/></g>
<text x="481.7" y="177.8" font-size="9.5" textLength="35.8" lengthAdjust="spacingAndGlyphs">mode = 1</text>
<line x1="456.2" y1="186.4" x2="478.9" y2="186.4" stroke="#000" stroke-width="1.08"/>
<g stroke="#000" stroke-width="0.98" fill="none"><path d="M464.5 183.4L470.5 189.4M464.5 189.4L470.5 183.4"/></g>
<text x="481.7" y="189.6" font-size="9.5" textLength="35.8" lengthAdjust="spacingAndGlyphs">mode = 2</text>
<line x1="456.2" y1="198.2" x2="478.9" y2="198.2" stroke="#000" stroke-width="1.08"/>
<g stroke="#000" stroke-width="0.98" fill="none"><path d="M463.7 198.2H471.3M467.5 194.4V202"/></g>
<text x="481.7" y="201.4" font-size="9.5" textLength="35.8" lengthAdjust="spacingAndGlyphs">mode = 3</text>
<line x1="456.2" y1="210" x2="478.9" y2="210" stroke="#000" stroke-width="1.08"/>
<g stroke="#000" stroke-width="0.98" fill="none"><path d="M463.7 210H471.3M467.5 206.2V213.8M464.8 207.3L470.2 212.7M464.8 212.7L470.2 207.3"/></g>
<text x="481.7" y="213.2" font-size="9.5" textLength="35.8" lengthAdjust="spacingAndGlyphs">mode = 4</text>
<line x1="456.2" y1="221.8" x2="478.9" y2="221.8" stroke="#000" stroke-width="1.08"/>
<g stroke="#000" stroke-width="0.98" fill="none"><rect x="464.4" y="218.7" width="6.2" height="6.2" fill="none"/></g>
<text x="481.7" y="225" font-size="9.5" textLength="35.8" lengthAdjust="spacingAndGlyphs">mode = 5</text></g>
<g><text x="36.4" y="12.2" font-size="11" textLength="21.2" lengthAdjust="spacingAndGlyphs" style="stroke-width:0.22px">max</text>
<text x="35.6" y="19.1" font-size="8" textLength="24.2" lengthAdjust="spacingAndGlyphs" style="stroke-width:0.1px">1<tspan font-size="9.4">≤</tspan><tspan font-style="italic">i</tspan><tspan font-size="9.4">≤</tspan><tspan font-style="italic">n</tspan></text>
<text x="62.2" y="12.3" font-size="11.5" style="stroke-width:0.12px">|</text>
<text x="65.6" y="12.7" font-size="12" font-style="italic" textLength="6.1" lengthAdjust="spacingAndGlyphs" style="stroke-width:0.12px">λ</text>
<text x="65.7" y="9.7" font-size="13" textLength="5.9" lengthAdjust="spacingAndGlyphs" style="stroke-width:0.12px">ˆ</text>
<text x="72.2" y="13.4" font-size="7.6" font-style="italic" style="stroke-width:0.35px">i</text>
<text x="78.2" y="13.45" font-size="11.3" textLength="8.35" lengthAdjust="spacingAndGlyphs" style="stroke-width:0.32px">−</text>
<text x="90.8" y="12.7" font-size="12" font-style="italic" textLength="6.1" lengthAdjust="spacingAndGlyphs" style="stroke-width:0.12px">λ</text>
<text x="96.9" y="13.4" font-size="7.6" font-style="italic" style="stroke-width:0.35px">i</text>
<text x="99.85" y="12.3" font-size="11.5" style="stroke-width:0.12px">|</text>
<text x="103.2" y="14.7" font-size="15.7" textLength="5.4" lengthAdjust="spacingAndGlyphs" style="stroke-width:0.12px">/</text>
<text x="109.95" y="12.3" font-size="11.5" style="stroke-width:0.12px">|</text>
<text x="113.6" y="12.7" font-size="12" font-style="italic" textLength="6.1" lengthAdjust="spacingAndGlyphs" style="stroke-width:0.12px">λ</text>
<text x="119.7" y="13.4" font-size="7.6" font-style="italic" style="stroke-width:0.35px">i</text>
<text x="123.55" y="12.3" font-size="11.5" style="stroke-width:0.12px">|</text>
<text x="159.95" y="17.3" font-size="12.5" textLength="5.2" lengthAdjust="spacing" style="stroke-width:0.08px">||</text>
<text x="165.2" y="17.1" font-size="12" textLength="35.2" lengthAdjust="spacingAndGlyphs" style="stroke-width:0.22px">offdiag</text>
<text x="200.3" y="17.3" font-size="12.5" style="stroke-width:0.12px">(</text>
<text x="205.4" y="17.1" font-size="12" font-style="italic" textLength="9" lengthAdjust="spacingAndGlyphs" style="stroke-width:0.12px">X</text>
<text x="206.8" y="13.9" font-size="12" textLength="7" lengthAdjust="spacingAndGlyphs" style="stroke-width:0.12px">ˆ</text>
<text x="215.8" y="13.3" font-size="8.4" style="stroke-width:0.22px">T</text>
<text x="223.9" y="17.1" font-size="12" font-style="italic" textLength="8.6" lengthAdjust="spacingAndGlyphs" style="stroke-width:0.12px">A</text>
<text x="233.1" y="17.1" font-size="12" font-style="italic" textLength="9" lengthAdjust="spacingAndGlyphs" style="stroke-width:0.12px">X</text>
<text x="234.5" y="13.9" font-size="12" textLength="7" lengthAdjust="spacingAndGlyphs" style="stroke-width:0.12px">ˆ</text>
<text x="242.2" y="17.3" font-size="12.5" style="stroke-width:0.12px">)</text>
<text x="245.85" y="17.3" font-size="12.5" textLength="5.2" lengthAdjust="spacing" style="stroke-width:0.08px">||</text>
<text x="251.7" y="20" font-size="17" textLength="5.7" lengthAdjust="spacingAndGlyphs" style="stroke-width:0.12px">/</text>
<text x="257.95" y="17.3" font-size="12.5" textLength="5.2" lengthAdjust="spacing" style="stroke-width:0.08px">||</text>
<text x="264.4" y="17.1" font-size="12" font-style="italic" textLength="8.6" lengthAdjust="spacingAndGlyphs" style="stroke-width:0.12px">A</text>
<text x="273.15" y="17.3" font-size="12.5" textLength="5.2" lengthAdjust="spacing" style="stroke-width:0.08px">||</text>
<text x="328.35" y="17.3" font-size="12.5" textLength="5.2" lengthAdjust="spacing" style="stroke-width:0.08px">||</text>
<text x="334.3" y="17.1" font-size="12" font-style="italic" textLength="5.4" lengthAdjust="spacingAndGlyphs" style="stroke-width:0.12px">I</text>
<text x="343" y="17.9" font-size="12" textLength="8" lengthAdjust="spacingAndGlyphs" style="stroke-width:0.32px">−</text>
<text x="355.2" y="17.1" font-size="12" font-style="italic" textLength="9" lengthAdjust="spacingAndGlyphs" style="stroke-width:0.12px">X</text>
<text x="356.6" y="13.9" font-size="12" textLength="7" lengthAdjust="spacingAndGlyphs" style="stroke-width:0.12px">ˆ</text>
<text x="366.2" y="13.3" font-size="8.4" style="stroke-width:0.22px">T</text>
<text x="372.9" y="17.1" font-size="12" font-style="italic" textLength="9" lengthAdjust="spacingAndGlyphs" style="stroke-width:0.12px">X</text>
<text x="374.3" y="13.9" font-size="12" textLength="7" lengthAdjust="spacingAndGlyphs" style="stroke-width:0.12px">ˆ</text>
<text x="383.15" y="17.3" font-size="12.5" textLength="5.2" lengthAdjust="spacing" style="stroke-width:0.08px">||</text>
<text x="487.35" y="17.3" font-size="12.5" textLength="5.2" lengthAdjust="spacing" style="stroke-width:0.08px">||</text>
<text x="493.4" y="17.1" font-size="12" font-style="italic" textLength="9" lengthAdjust="spacingAndGlyphs" style="stroke-width:0.12px">E</text>
<text x="494.6" y="13.9" font-size="12" textLength="6.6" lengthAdjust="spacingAndGlyphs" style="stroke-width:0.12px">ˆ</text>
<text x="502.95" y="17.3" font-size="12.5" textLength="5.2" lengthAdjust="spacing" style="stroke-width:0.08px">||</text></g>
</svg>
</body></html>
